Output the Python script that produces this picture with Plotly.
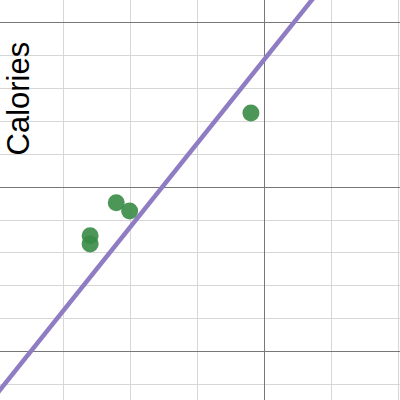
import plotly.graph_objects as go

# points (grid units)
pts_x = [-0.21, -2.22, -2.02, -2.61, -2.61]
pts_y = [2.24, -0.48, -0.73, -1.48, -1.73]

# fitted line endpoints
line_x = [-4.2, 1.0]
line_y = [-6.77, 6.43]

fig = go.Figure()
fig.add_trace(go.Scatter(x=line_x, y=line_y, mode="lines",
                         line=dict(color="#8f7cc3", width=4.5), hoverinfo="skip"))
fig.add_trace(go.Scatter(x=pts_x, y=pts_y, mode="markers",
                         marker=dict(color="#388c46", size=17, opacity=0.9)))

axis_common = dict(showticklabels=False, zeroline=False, showline=False,
                   dtick=5, gridcolor="#777777", gridwidth=1.4,
                   minor=dict(dtick=1, gridcolor="#d6d6d6", gridwidth=1.2, showgrid=True))
fig.update_xaxes(range=[-3.955, 2.015], **axis_common)
fig.update_yaxes(range=[-6.455, 5.667], **axis_common)

fig.add_annotation(text="Calories", xref="paper", yref="paper", x=0.0, y=0.7525,
                   xanchor="left", yanchor="middle", textangle=-90, showarrow=False,
                   xshift=-2, font=dict(family="Liberation Sans, Arial", size=31, color="black"))

fig.update_layout(width=400, height=400, margin=dict(l=0, r=0, t=0, b=0),
                  plot_bgcolor="white", paper_bgcolor="white", showlegend=False)
fig.write_html("out.html", post_script="document.body.style.margin='0';",
               config=dict(displayModeBar=False))
